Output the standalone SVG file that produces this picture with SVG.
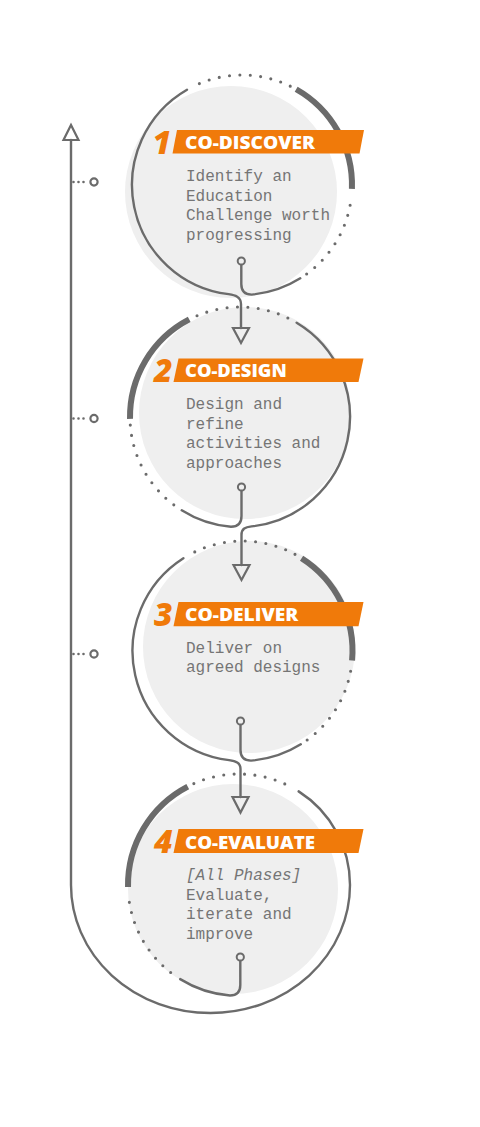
<svg xmlns="http://www.w3.org/2000/svg" width="480" height="1127" viewBox="0 0 480 1127">
<style>
.bg{fill:#efefef}
.ln{fill:none;stroke:#6b6b6b;stroke-width:2.4;stroke-linecap:round;stroke-linejoin:round}
.thick{fill:none;stroke:#6b6b6b;stroke-width:6}
.dots{fill:none;stroke:#6b6b6b;stroke-width:3.1;stroke-linecap:round;stroke-dasharray:0 10.4}
.sdots{fill:none;stroke:#6b6b6b;stroke-width:2.6;stroke-linecap:round;stroke-dasharray:0 5}
.pin{fill:#efefef;stroke:#6b6b6b;stroke-width:2}
.sp{fill:#ffffff;stroke:#6b6b6b;stroke-width:2.2}
.arr{fill:none;stroke:#6b6b6b;stroke-width:2.2;stroke-linejoin:miter}
.ban{fill:#f07a0a}
.num{font-family:"Open Sans",Lato,"Liberation Sans",sans-serif;font-weight:800;font-style:italic;font-size:32px;fill:#f07a0a;text-anchor:end}
.ttl{font-family:"Open Sans",Lato,"Liberation Sans",sans-serif;font-weight:800;font-size:17px;fill:#ffffff}
.body{font-family:"Liberation Mono","DejaVu Sans Mono",monospace;font-size:16px;fill:#757575}
</style>
<rect width="480" height="1127" fill="#ffffff"/>
<g id="backdrops">
<circle class="bg" cx="231" cy="192" r="106"/>
<circle class="bg" cx="245" cy="413" r="106"/>
<circle class="bg" cx="249" cy="647" r="106"/>
<circle class="bg" cx="233" cy="889" r="105"/>
</g>
<g id="connectors">
<path class="ln" d="M187 89.74 A110 110 0 0 0 228.59 294.18 C235 295.2 241 296.5 241 304 V328"/>
<polygon class="arr" points="233,328 249,328 241,343"/>
<path class="ln" d="M296.65 322.71 A110 110 0 0 1 251.5 526.4 C245.5 527.2 241.5 528.5 241.5 535 V565"/>
<polygon class="arr" points="233.5,565 249.5,565 241.5,580"/>
<path class="ln" d="M183.4 558.23 A110 110 0 0 0 229.09 760.18 C235.5 761.2 240.5 762.5 240.5 769 V797"/>
<polygon class="arr" points="232.5,797 248.5,797 240.5,812.5"/>
<path class="ln" d="M298.64 791.38 A111 111 0 0 1 350 885 A139.5 128 0 0 1 71 885 V140"/>
<polygon class="arr" points="63.5,140 78.5,140 71,125"/>
<path class="sdots" d="M73.5 182 H85"/>
<circle class="sp" cx="94" cy="182" r="3.6"/>
<path class="sdots" d="M73.5 418.5 H85"/>
<circle class="sp" cx="94" cy="418.5" r="3.6"/>
<path class="sdots" d="M73.5 654 H85"/>
<circle class="sp" cx="94" cy="654" r="3.6"/>
</g>
<g id="phase1">
<path class="dots" d="M290.22 86.13 A110 110 0 0 0 193.78 86.13"/>
<path class="thick" d="M351.93 188.84 A110 110 0 0 0 296.17 89.26"/>
<path class="dots" d="M306.66 273.99 A110 110 0 0 0 351.18 198.41"/>
<path class="ln" d="M241.3 264.5 V284 Q241.3 294.6 251.6 294.6 A110 110 0 0 0 300.29 278.29"/>
<circle class="pin" cx="241.3" cy="261" r="3.6"/>
<polygon class="ban" points="177,130 364,130 359.5,153.5 172.5,153.5"/>
<text class="num" x="171" y="153.5">1</text>
<text class="ttl" x="185" y="148.5" textLength="130" lengthAdjust="spacingAndGlyphs">CO-DISCOVER</text>
<text class="body" x="186" y="181">Identify an</text>
<text class="body" x="186" y="200.7">Education</text>
<text class="body" x="186" y="220.3">Challenge worth</text>
<text class="body" x="186" y="240">progressing</text>
</g>
<g id="phase2">
<path class="dots" d="M197.02 315.75 A110 110 0 0 1 289.94 318.99"/>
<path class="thick" d="M130.02 418.92 A110 110 0 0 1 189.21 319.43"/>
<path class="dots" d="M173.8 504.85 A110 110 0 0 1 130.27 424.67"/>
<path class="ln" d="M241.5 490.5 V516 Q241.5 526.8 231 526.8 A110 110 0 0 1 181.71 510.29"/>
<circle class="pin" cx="241.5" cy="487" r="3.6"/>
<polygon class="ban" points="178.5,358.5 363.5,358.5 358.5,382 173.5,382"/>
<text class="num" x="172.5" y="382">2</text>
<text class="ttl" x="185" y="376.7" textLength="101.7" lengthAdjust="spacingAndGlyphs">CO-DESIGN</text>
<text class="body" x="186" y="409">Design and</text>
<text class="body" x="186" y="428.5">refine</text>
<text class="body" x="186" y="448">activities and</text>
<text class="body" x="186" y="467.5">approaches</text>
</g>
<g id="phase3">
<path class="dots" d="M294.99 554.33 A110 110 0 0 0 192.56 552.99"/>
<path class="thick" d="M352.08 660.59 A110 110 0 0 0 301.6 558.23"/>
<path class="dots" d="M307.16 739.99 A110 110 0 0 0 351.43 666.31"/>
<path class="ln" d="M240.5 724.5 V750 Q240.5 760.6 251 760.6 A110 110 0 0 0 300.79 744.29"/>
<circle class="pin" cx="240.5" cy="721" r="3.6"/>
<polygon class="ban" points="178.5,602 363.5,602 358.5,626.3 173.5,626.3"/>
<text class="num" x="172.5" y="626">3</text>
<text class="ttl" x="185" y="621.3" textLength="113.3" lengthAdjust="spacingAndGlyphs">CO-DELIVER</text>
<text class="body" x="186" y="653">Deliver on</text>
<text class="body" x="186" y="672">agreed designs</text>
</g>
<g id="phase4">
<path class="dots" d="M193.85 783.6 A111 111 0 0 1 289.39 786.1"/>
<path class="thick" d="M128.02 886.94 A111 111 0 0 1 187.75 786.54"/>
<path class="dots" d="M170.66 972.47 A111 111 0 0 1 128.42 894.67"/>
<path class="ln" d="M240.3 960.5 V985 Q240.3 995.5 230 995.5 A111 111 0 0 1 180.18 979.13"/>
<circle class="pin" cx="240.3" cy="957" r="3.6"/>
<polygon class="ban" points="178.5,829 363.5,829 358.5,853 173.5,853"/>
<text class="num" x="172.5" y="853">4</text>
<text class="ttl" x="185" y="848.5" textLength="130" lengthAdjust="spacingAndGlyphs">CO-EVALUATE</text>
<text class="body" x="186" y="880" font-style="italic">[All Phases]</text>
<text class="body" x="186" y="899.5">Evaluate,</text>
<text class="body" x="186" y="919">iterate and</text>
<text class="body" x="186" y="938.5">improve</text>
</g>
</svg>
